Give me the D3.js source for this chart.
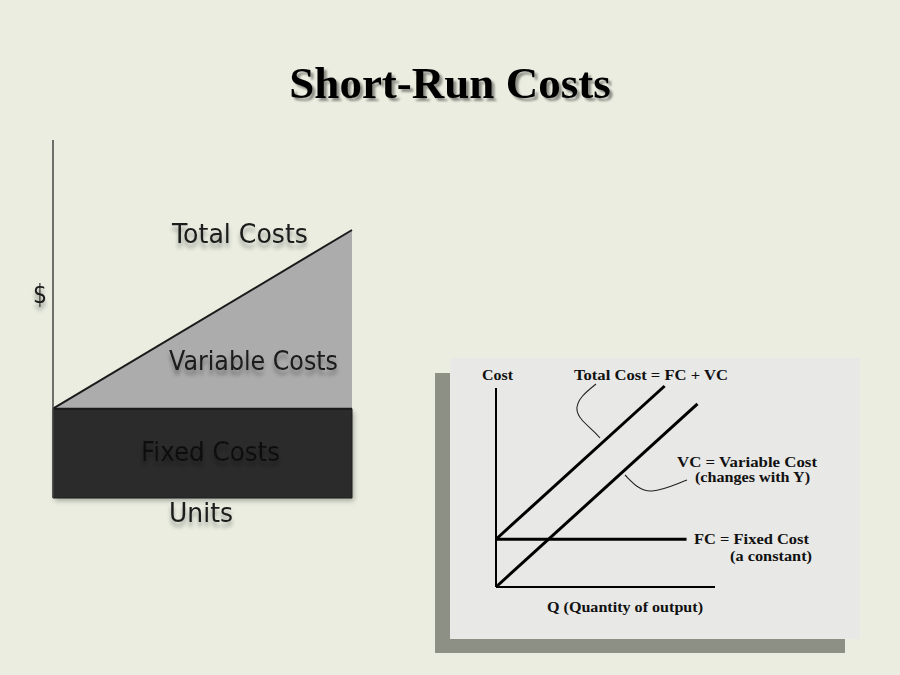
<!DOCTYPE html>
<html><head><meta charset="utf-8">
<script src="https://cdn.jsdelivr.net/npm/d3@7/dist/d3.min.js"></script>
<style>html,body{margin:0;padding:0;background:#eaede0;}svg{display:block;}</style>
</head><body>
<svg id="c" width="900" height="675"></svg>
<script>
// ---- data ----
const title = "Short-Run Costs";
// left chart: units vs $
const leftUnits = [0, 10];
const leftFixed = [3, 3];          // fixed costs band top
const leftTotal = [3, 9];          // total costs line
const leftLabels = ["Total Costs", "Variable Costs", "Fixed Costs", "Units", "$"];
// right chart: quantity vs cost
const qTC = [0, 7.7],  tcVals = [2.4, 10.1];
const qVC = [0, 9.2],  vcVals = [0, 9.2];
const qFC = [0, 8.7],  fcVals = [2.4, 2.4];
const rightLabels = ["Cost", "Total Cost = FC + VC", "VC = Variable Cost", "(changes with Y)",
                     "FC = Fixed Cost", "(a constant)", "Q (Quantity of output)"];

const svg = d3.select("#c");
const defs = svg.append("defs");
const f1 = defs.append("filter").attr("id","tsh").attr("x","-20%").attr("y","-40%").attr("width","140%").attr("height","200%");
f1.append("feGaussianBlur").attr("in","SourceAlpha").attr("stdDeviation",2.2).attr("result","b");
f1.append("feOffset").attr("in","b").attr("dx",0).attr("dy",5).attr("result","o");
f1.append("feComponentTransfer").attr("in","o").attr("result","oc").append("feFuncA").attr("type","linear").attr("slope",0.35);
const m1 = f1.append("feMerge"); m1.append("feMergeNode").attr("in","oc"); m1.append("feMergeNode").attr("in","SourceGraphic");

const f2 = defs.append("filter").attr("id","tish").attr("x","-10%").attr("y","-30%").attr("width","120%").attr("height","160%");
f2.append("feGaussianBlur").attr("in","SourceAlpha").attr("stdDeviation",1.2).attr("result","b");
f2.append("feOffset").attr("in","b").attr("dx",3).attr("dy",3).attr("result","o");
f2.append("feComponentTransfer").attr("in","o").attr("result","oc").append("feFuncA").attr("type","linear").attr("slope",0.4);
const m2 = f2.append("feMerge"); m2.append("feMergeNode").attr("in","oc"); m2.append("feMergeNode").attr("in","SourceGraphic");

const f3 = defs.append("filter").attr("id","bsh").attr("x","-10%").attr("y","-10%").attr("width","120%").attr("height","120%");
f3.append("feGaussianBlur").attr("stdDeviation",2.5);

// title
svg.append("text").attr("x",450).attr("y",98).attr("text-anchor","middle")
  .attr("font-family","'Liberation Serif','Times New Roman',serif").attr("font-weight","bold")
  .attr("font-size",45).attr("fill","#000").attr("filter","url(#tish)").text(title);

// ---- left chart ----
const xL = d3.scaleLinear().domain([0,10]).range([53,352]);
const yL = d3.scaleLinear().domain([0,9]).range([498,230]);

// shadow for fixed block
svg.append("rect").attr("x",xL(0)+2).attr("y",yL(leftFixed[0])+3).attr("width",xL(10)-xL(0)).attr("height",yL(0)-yL(leftFixed[0]))
  .attr("fill","#7d7f76").attr("opacity",0.6).attr("filter","url(#bsh)");

const varArea = d3.area().x((d,i)=>xL(leftUnits[i])).y0((d,i)=>yL(leftFixed[i])).y1(d=>yL(d));
svg.append("path").datum(leftTotal).attr("d",varArea).attr("fill","#acacac");
const fixArea = d3.area().x((d,i)=>xL(leftUnits[i])).y0(yL(0)).y1(d=>yL(d));
svg.append("path").datum(leftFixed).attr("d",fixArea).attr("fill","#2b2b2b").attr("stroke","#1e1e1e").attr("stroke-width",1);
const lineL = d3.line().x((d,i)=>xL(leftUnits[i])).y(d=>yL(d));
svg.append("path").datum(leftTotal).attr("d",lineL).attr("fill","none").attr("stroke","#1a1a1a").attr("stroke-width",2);
svg.append("path").datum(leftFixed).attr("d",lineL).attr("fill","none").attr("stroke","#1a1a1a").attr("stroke-width",2);
// y axis
svg.append("line").attr("x1",xL(0)).attr("x2",xL(0)).attr("y1",140).attr("y2",yL(0)).attr("stroke","#444").attr("stroke-width",1.5);

const lfont = "'DejaVu Sans',Verdana,sans-serif";
const lpos = [
  {t:leftLabels[0], x:172, y:243, w:136, col:"#1a1a1a"},
  {t:leftLabels[1], x:169, y:370, w:169, col:"#1a1a1a"},
  {t:leftLabels[2], x:141, y:461, w:139, col:"#111"},
  {t:leftLabels[3], x:169, y:522, w:64, col:"#1a1a1a"},
  {t:leftLabels[4], x:33, y:303, w:14, col:"#1a1a1a"}
];
svg.selectAll("text.ll").data(lpos).join("text").attr("class","ll")
  .attr("x",d=>d.x).attr("y",d=>d.y).attr("font-family",lfont).attr("font-size",26)
  .attr("textLength",d=>d.w).attr("lengthAdjust","spacingAndGlyphs")
  .attr("fill",d=>d.col).attr("filter","url(#tsh)").text(d=>d.t);

// ---- right chart ----
svg.append("rect").attr("x",435).attr("y",373).attr("width",410).attr("height",280).attr("fill","#8d9084");
svg.append("rect").attr("x",450).attr("y",358).attr("width",410).attr("height",281).attr("fill","#e8e8e6");

const xR = d3.scaleLinear().domain([0,10]).range([496,715]);
const yR = d3.scaleLinear().domain([0,10]).range([587,388]);
// axes
svg.append("line").attr("x1",xR(0)).attr("x2",xR(0)).attr("y1",yR(10)).attr("y2",yR(0)).attr("stroke","#000").attr("stroke-width",2);
svg.append("line").attr("x1",xR(0)).attr("x2",xR(10)).attr("y1",yR(0)).attr("y2",yR(0)).attr("stroke","#000").attr("stroke-width",2);

const mkLine = (qs)=>d3.line().x((d,i)=>xR(qs[i])).y(d=>yR(d));
svg.append("path").datum(fcVals).attr("d",mkLine(qFC)).attr("fill","none").attr("stroke","#000").attr("stroke-width",3);
svg.append("path").datum(tcVals).attr("d",mkLine(qTC)).attr("fill","none").attr("stroke","#000").attr("stroke-width",3);
svg.append("path").datum(vcVals).attr("d",mkLine(qVC)).attr("fill","none").attr("stroke","#000").attr("stroke-width",3);

// leader curves
svg.append("path").attr("d","M596,384 C586,392 576,400 577,410 C578,420 592,428 600,438")
  .attr("fill","none").attr("stroke","#222").attr("stroke-width",1.1);
svg.append("path").attr("d","M625,475 C632,482 640,492 652,491 C664,490 676,484 687,480")
  .attr("fill","none").attr("stroke","#222").attr("stroke-width",1.1);

const rfont = "'Liberation Serif','Times New Roman',serif";
const rpos = [
  {t:rightLabels[0], x:482, y:380, w:31},
  {t:rightLabels[1], x:574, y:380, w:154},
  {t:rightLabels[2], x:677, y:467, w:140},
  {t:rightLabels[3], x:695, y:482, w:115},
  {t:rightLabels[4], x:694, y:544, w:115},
  {t:rightLabels[5], x:730, y:561, w:82},
  {t:rightLabels[6], x:547, y:612, w:156}
];
svg.selectAll("text.rl").data(rpos).join("text").attr("class","rl")
  .attr("x",d=>d.x).attr("y",d=>d.y).attr("font-family",rfont).attr("font-weight","bold").attr("font-size",14)
  .attr("textLength",d=>d.w).attr("lengthAdjust","spacingAndGlyphs")
  .attr("fill","#111").text(d=>d.t);
</script>
</body></html>
